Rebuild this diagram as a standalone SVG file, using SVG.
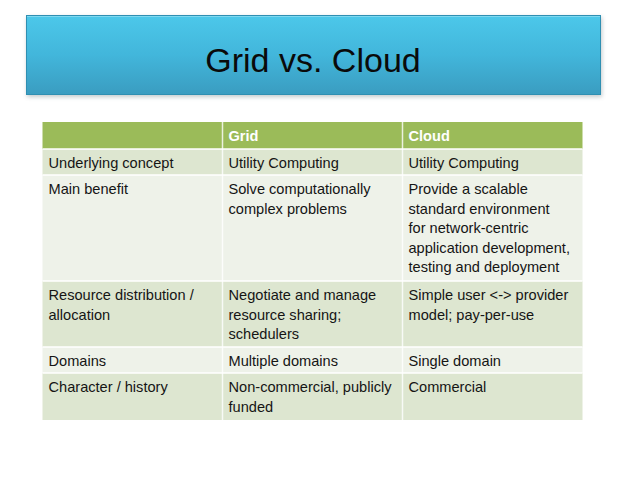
<svg xmlns="http://www.w3.org/2000/svg" width="638" height="479" viewBox="0 0 638 479">
<defs>
<linearGradient id="bannerGrad" x1="0" y1="0" x2="0" y2="1">
<stop offset="0" stop-color="#4CC8EA"/>
<stop offset="0.5" stop-color="#42B6DB"/>
<stop offset="1" stop-color="#3A9CC0"/>
</linearGradient>
<filter id="shadow" x="-5%" y="-20%" width="110%" height="150%">
<feGaussianBlur stdDeviation="2"/>
</filter>
<style>
.t{font-family:"Liberation Sans",Arial,sans-serif;font-size:14.6px;fill:#151515}
.h{font-family:"Liberation Sans",Arial,sans-serif;font-size:14.6px;font-weight:bold;fill:#FFFFFF}
.title{font-family:"Liberation Sans",Arial,sans-serif;font-size:34px;fill:#0A0A0A}
.hdr{fill:#9BBB59}
.dark{fill:#DDE6D0}
.light{fill:#EEF2E9}
.grid{stroke:#FFFFFF;stroke-width:1.5;fill:none}
</style>
</defs>
<rect width="638" height="479" fill="#FFFFFF"/>
<g id="banner">
<rect x="27" y="17" width="575" height="80" fill="#7A8A90" opacity="0.45" filter="url(#shadow)"/>
<rect x="26" y="15" width="575" height="80" fill="url(#bannerGrad)"/>
<rect x="26.5" y="15.5" width="574" height="79" fill="none" stroke="#2F8FB2" stroke-width="1"/>
<line x1="27" y1="16.5" x2="600" y2="16.5" stroke="#7FD8F0" stroke-width="1"/>
<text class="title" x="313" y="72" text-anchor="middle">Grid vs. Cloud</text>
</g>
<g id="table">
<rect class="hdr" x="42.5" y="122" width="540" height="27"/>
<rect class="dark" x="42.5" y="149" width="540" height="26"/>
<rect class="light" x="42.5" y="175" width="540" height="106"/>
<rect class="dark" x="42.5" y="281" width="540" height="66"/>
<rect class="light" x="42.5" y="347" width="540" height="26"/>
<rect class="dark" x="42.5" y="373" width="540" height="47"/>
</g>
<g id="gridlines" class="grid">
<line x1="42.5" y1="149" x2="582.5" y2="149"/>
<line x1="42.5" y1="175" x2="582.5" y2="175"/>
<line x1="42.5" y1="281" x2="582.5" y2="281"/>
<line x1="42.5" y1="347" x2="582.5" y2="347"/>
<line x1="42.5" y1="373" x2="582.5" y2="373"/>
<line x1="222.5" y1="122" x2="222.5" y2="420" stroke-opacity="0.8"/>
<line x1="402.5" y1="122" x2="402.5" y2="420" stroke-opacity="0.8"/>
</g>
<g id="header-row">
<text class="h" x="228.5" y="141">Grid</text>
<text class="h" x="408.5" y="141">Cloud</text>
</g>
<g id="row-concept">
<text class="t" x="48.5" y="168">Underlying concept</text>
<text class="t" x="228.5" y="168">Utility Computing</text>
<text class="t" x="408.5" y="168">Utility Computing</text>
</g>
<g id="row-benefit">
<text class="t" x="48.5" y="194">Main benefit</text>
<text class="t" x="228.5" y="194">Solve computationally</text>
<text class="t" x="228.5" y="213.5">complex problems</text>
<text class="t" x="408.5" y="194">Provide a scalable</text>
<text class="t" x="408.5" y="213.5">standard environment</text>
<text class="t" x="408.5" y="233">for network-centric</text>
<text class="t" x="408.5" y="252.5">application development,</text>
<text class="t" x="408.5" y="272">testing and deployment</text>
</g>
<g id="row-resource">
<text class="t" x="48.5" y="300">Resource distribution /</text>
<text class="t" x="48.5" y="319.5">allocation</text>
<text class="t" x="228.5" y="300">Negotiate and manage</text>
<text class="t" x="228.5" y="319.5">resource sharing;</text>
<text class="t" x="228.5" y="339">schedulers</text>
<text class="t" x="408.5" y="300">Simple user &lt;-&gt; provider</text>
<text class="t" x="408.5" y="319.5">model; pay-per-use</text>
</g>
<g id="row-domains">
<text class="t" x="48.5" y="366">Domains</text>
<text class="t" x="228.5" y="366">Multiple domains</text>
<text class="t" x="408.5" y="366">Single domain</text>
</g>
<g id="row-character">
<text class="t" x="48.5" y="392">Character / history</text>
<text class="t" x="228.5" y="392">Non-commercial, publicly</text>
<text class="t" x="228.5" y="411.5">funded</text>
<text class="t" x="408.5" y="392">Commercial</text>
</g>
</svg>
